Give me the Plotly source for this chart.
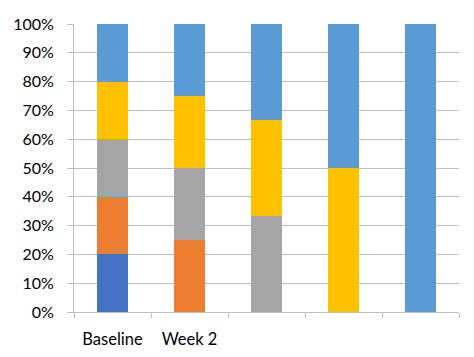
import plotly.graph_objects as go

categories = ["Baseline", "Week 2", " ", "  ", "   "]
series_names = ["S1", "S2", "S3", "S4", "S5"]
s1 = [0.20, 0, 0, 0, 0]
s2 = [0.20, 0.25, 0, 0, 0]
s3 = [0.20, 0.25, 1/3, 0, 0]
s4 = [0.20, 0.25, 1/3, 0.50, 0]
s5 = [0.20, 0.25, 1/3, 0.50, 1.00]
colors = ["#4472C4", "#ED7D31", "#A5A5A5", "#FFC000", "#5B9BD5"]
ytick_vals = [i / 10 for i in range(11)]
ytick_text = [f"{i*10}%" for i in range(11)]

fig = go.Figure()
for name, vals, c in zip(series_names, [s1, s2, s3, s4, s5], colors):
    fig.add_trace(go.Bar(x=categories, y=vals, name=name, marker=dict(color=c, line=dict(width=0))))

font = dict(family="Lato, Open Sans, sans-serif", size=16, color="#000000")
fig.update_layout(
    barmode="stack",
    bargap=0.6,
    width=474, height=357,
    margin=dict(l=74, r=15, t=24, b=45),
    paper_bgcolor="white", plot_bgcolor="white",
    showlegend=False,
    font=font,
)
fig.update_yaxes(
    range=[0, 1], tickvals=ytick_vals, ticktext=ytick_text,
    showgrid=True, gridcolor="#BFBFBF", gridwidth=1,
    showline=True, linecolor="#BFBFBF", linewidth=1,
    ticks="outside", ticklen=6, tickcolor="#BFBFBF",
    ticklabelstandoff=10, zeroline=False, automargin=False,
)
fig.update_xaxes(
    type="category", showgrid=False,
    showline=True, linecolor="#BFBFBF", linewidth=1,
    ticks="outside", tickson="boundaries", ticklen=5, tickcolor="#BFBFBF",
    ticklabelstandoff=12, tickfont=dict(size=16.5), automargin=False,
)
fig.write_html("out.html", config={"displayModeBar": False},
               post_script="document.body.style.margin='0';")
